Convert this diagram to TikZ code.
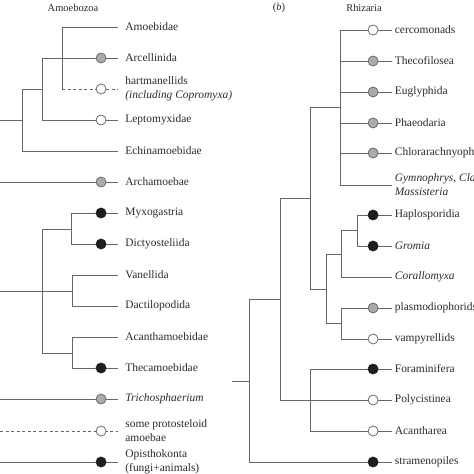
\documentclass[tikz,border=0pt]{standalone}
\usepackage{fontspec}
\setmainfont{Liberation Serif}
\definecolor{ln}{HTML}{666666}
\definecolor{txt}{HTML}{2B2B2B}
\definecolor{dotgrey}{HTML}{ABABAB}
\definecolor{dotblack}{HTML}{1E1E1E}
\begin{document}
\begin{tikzpicture}[x=1bp, y=-1bp, line width=0.75bp, draw=ln,
    leaf/.style={anchor=west, inner xsep=7bp, inner ysep=0pt, align=left, text=txt,
      font=\fontsize{11.5}{14}\selectfont},
    rleaf/.style={leaf, inner xsep=2.5bp},
    title/.style={text=txt, font=\fontsize{10.5}{12}\selectfont},
    open/.style={circle, draw=ln, fill=white, minimum size=10bp, inner sep=0pt},
    grey/.style={open, fill=dotgrey},
    dark/.style={open, draw=dotblack, fill=dotblack},
    unsure/.style={dash pattern=on 3bp off 2.5bp}]
    \useasboundingbox (0,0) rectangle (474,474);
    \clip (0,0) rectangle (474,474);

    % Amoebozoa
    \node (amz) [title] at (73,8) {Amoebozoa};
    \node (amoeb) [leaf] at (118,27) {Amoebidae};
    \node (arcel) [leaf] at (118,58) {Arcellinida};
    \node (hartm) [leaf] at (118,89) {hartmanellids\\\textit{(including Copromyxa)}};
    \node (lepto) [leaf] at (118,120) {Leptomyxidae};
    \node (echin) [leaf] at (118,151) {Echinamoebidae};
    \node (archa) [leaf] at (118,182) {Archamoebae};
    \node (myxo) [leaf] at (118,213) {Myxogastria};
    \node (dicty) [leaf] at (118,244) {Dictyosteliida};
    \node (vanel) [leaf] at (118,275) {Vanellida};
    \node (dacti) [leaf] at (118,306) {Dactilopodida};
    \node (acant) [leaf] at (118,337) {Acanthamoebidae};
    \node (theca) [leaf] at (118,368) {Thecamoebidae};
    \node (trich) [leaf] at (118,399) {\textit{Trichosphaerium}};
    \node (proto) [leaf] at (118,431) {some protosteloid\\amoebae};
    \node (opist) [leaf] at (118,462) {Opisthokonta\\(fungi+animals)};

    \coordinate (a0) at (0,120);
    \coordinate (a1) at (22,120);
    \coordinate (a2) at (42,89);
    \coordinate (a3) at (62,58);
    \coordinate (a4) at (62,89);
    \draw (a0) -- (a1);
    \draw (a1) |- (a2);
    \draw (a1) |- (echin.west);
    \draw (a2) |- (arcel.west);
    \draw (a2) |- (lepto.west);
    \draw (a3) |- (amoeb.west);
    \draw (a3) -- (a4);
    \draw [unsure] (a4) -- (hartm.west);

    \coordinate (b0) at (0,182);
    \draw (b0) -- (archa.west);

    \coordinate (c0) at (0,291);
    \coordinate (c1) at (42,291);
    \coordinate (c2) at (71,229);
    \coordinate (c3) at (72,291);
    \coordinate (c4) at (72,353);
    \draw (c0) -- (c3);
    \draw (c1) |- (c2);
    \draw (c1) |- (c4);
    \draw (c2) |- (myxo.west);
    \draw (c2) |- (dicty.west);
    \draw (c3) |- (vanel.west);
    \draw (c3) |- (dacti.west);
    \draw (c4) |- (acant.west);
    \draw (c4) |- (theca.west);

    \coordinate (d0) at (0,399);
    \coordinate (e0) at (0,431);
    \coordinate (f0) at (0,462);
    \draw (d0) -- (trich.west);
    \draw [unsure] (e0) -- (proto.west);
    \draw (f0) -- (opist.west);

    \node (arcel-m) [grey] at ([xshift=-17]arcel.west) {};
    \node (hartm-m) [open] at ([xshift=-17]hartm.west) {};
    \node (lepto-m) [open] at ([xshift=-17]lepto.west) {};
    \node (archa-m) [grey] at ([xshift=-17]archa.west) {};
    \node (myxo-m) [dark] at ([xshift=-17]myxo.west) {};
    \node (dicty-m) [dark] at ([xshift=-17]dicty.west) {};
    \node (theca-m) [dark] at ([xshift=-17]theca.west) {};
    \node (trich-m) [grey] at ([xshift=-17]trich.west) {};
    \node (proto-m) [open] at ([xshift=-17]proto.west) {};
    \node (opist-m) [dark] at ([xshift=-17]opist.west) {};

    % Rhizaria
    \node (pb) [title] at (279,8) {(\textit{b})};
    \node (rhz) [title] at (364,8) {Rhizaria};
    \node (cerco) [rleaf] at (392,30) {cercomonads};
    \node (theco) [rleaf] at (392,61) {Thecofilosea};
    \node (eugly) [rleaf] at (392,92) {Euglyphida};
    \node (phaeo) [rleaf] at (392,123) {Phaeodaria};
    \node (chlor) [rleaf] at (392,153) {Chlorarachnyophytes};
    \node (gymno) [rleaf] at (392,185) {\textit{Gymnophrys, Cla}\\\textit{Massisteria}};
    \node (haplo) [rleaf] at (392,215) {Haplosporidia};
    \node (gromi) [rleaf] at (392,246) {\textit{Gromia}};
    \node (coral) [rleaf] at (392,277) {\textit{Corallomyxa}};
    \node (plasm) [rleaf] at (392,308) {plasmodiophorids};
    \node (vampy) [rleaf] at (392,339) {vampyrellids};
    \node (foram) [rleaf] at (392,369) {Foraminifera};
    \node (polyc) [rleaf] at (392,400) {Polycistinea};
    \node (acnth) [rleaf] at (392,431) {Acantharea};
    \node (stram) [rleaf] at (392,462) {stramenopiles};

    \coordinate (r0) at (232,381);
    \coordinate (r1) at (249,381);
    \coordinate (r2) at (280,299);
    \coordinate (r3) at (310,198);
    \coordinate (r4) at (340,107);
    \coordinate (r5) at (326,289);
    \coordinate (r6) at (310,400);
    \coordinate (r7) at (341,254);
    \coordinate (r8) at (341,323);
    \coordinate (r9) at (357,230);
    \draw (r0) -- (r1);
    \draw (r1) |- (r2);
    \draw (r1) |- (stram.west);
    \draw (r2) |- (r3);
    \draw (r2) |- (polyc.west);
    \draw (r6) |- (foram.west);
    \draw (r6) |- (acnth.west);
    \draw (r3) |- (r4);
    \draw (r3) |- (r5);
    \draw (r4) |- (cerco.west);
    \draw (r4) |- (theco.west);
    \draw (r4) |- (eugly.west);
    \draw (r4) |- (phaeo.west);
    \draw (r4) |- (chlor.west);
    \draw (r4) |- (gymno.west);
    \draw (r5) |- (r7);
    \draw (r5) |- (r8);
    \draw (r7) |- (r9);
    \draw (r7) |- (coral.west);
    \draw (r9) |- (haplo.west);
    \draw (r9) |- (gromi.west);
    \draw (r8) |- (plasm.west);
    \draw (r8) |- (vampy.west);

    \node (cerco-m) [open] at ([xshift=-19]cerco.west) {};
    \node (theco-m) [grey] at ([xshift=-19]theco.west) {};
    \node (eugly-m) [grey] at ([xshift=-19]eugly.west) {};
    \node (phaeo-m) [grey] at ([xshift=-19]phaeo.west) {};
    \node (chlor-m) [grey] at ([xshift=-19]chlor.west) {};
    \node (haplo-m) [dark] at ([xshift=-19]haplo.west) {};
    \node (gromi-m) [dark] at ([xshift=-19]gromi.west) {};
    \node (plasm-m) [grey] at ([xshift=-19]plasm.west) {};
    \node (vampy-m) [open] at ([xshift=-19]vampy.west) {};
    \node (foram-m) [dark] at ([xshift=-19]foram.west) {};
    \node (polyc-m) [open] at ([xshift=-19]polyc.west) {};
    \node (acnth-m) [open] at ([xshift=-19]acnth.west) {};
    \node (stram-m) [dark] at ([xshift=-19]stram.west) {};
\end{tikzpicture}
\end{document}
